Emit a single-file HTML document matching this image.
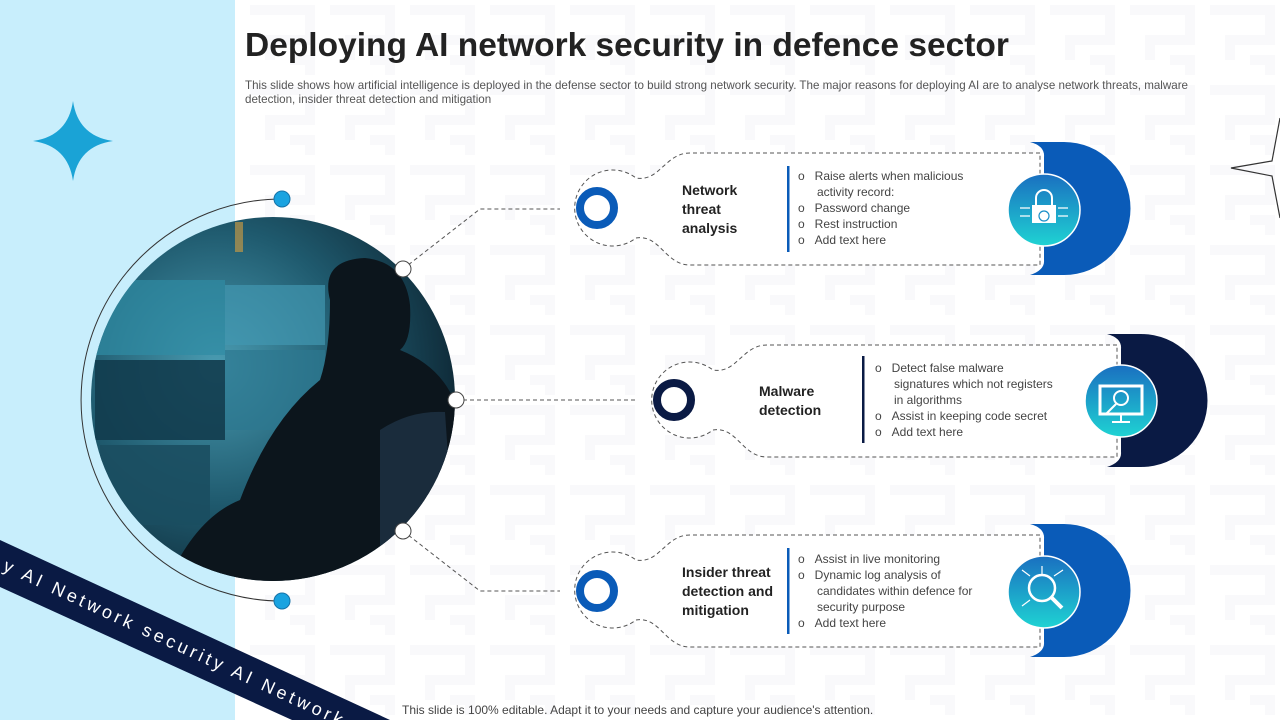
<!DOCTYPE html>
<html><head><meta charset="utf-8"><style>
html,body{margin:0;padding:0;width:1280px;height:720px;overflow:hidden;background:#fff;font-family:"Liberation Sans",sans-serif;position:relative}
</style></head><body>
<svg width="1280" height="720" viewBox="0 0 1280 720" xmlns="http://www.w3.org/2000/svg" style="position:absolute;left:0;top:0;overflow:hidden">
<defs>
<linearGradient id="teal" x1="0" y1="0" x2="0" y2="1"><stop offset="0" stop-color="#1a6fc0"/><stop offset="1" stop-color="#1fd3d3"/></linearGradient>
<radialGradient id="photo" cx="0.35" cy="0.4" r="0.7"><stop offset="0" stop-color="#4a9cb2"/><stop offset="0.5" stop-color="#1f5a6e"/><stop offset="1" stop-color="#0a1c28"/></radialGradient>
<clipPath id="pc"><circle cx="273" cy="399" r="182"/></clipPath>
<clipPath id="bc"><rect x="0" y="0" width="1280" height="720"/></clipPath>
<pattern id="maze" width="80" height="80" patternUnits="userSpaceOnUse"><path d="M10 10 H70 V40 H30 V60 M50 60 H70 V75" fill="none" stroke="#f9f9fb" stroke-width="10"/></pattern>
</defs>
<rect x="235" y="0" width="1045" height="720" fill="url(#maze)"/>
<rect x="0" y="0" width="235" height="720" fill="#c8eefc"/>
<path d="M73 101 Q78 136 113 141 Q78 146 73 181 Q68 146 33 141 Q68 136 73 101Z" fill="#1aa3d6"/>
<path d="M1280 118 L1272 161 L1231 168 L1272 176 L1280 218" fill="none" stroke="#333" stroke-width="1.2"/>
<path d="M282 199 A201 201 0 0 0 282 601" fill="none" stroke="#333" stroke-width="1"/>
<circle cx="282" cy="199" r="8" fill="#1aa3e0" stroke="#1673a8"/>
<circle cx="282" cy="601" r="8" fill="#1aa3e0" stroke="#1673a8"/>
<g clip-path="url(#pc)">
<rect x="80" y="210" width="390" height="390" fill="url(#photo)"/>
<rect x="95" y="280" width="130" height="75" fill="#2f8ba4" opacity="0.7"/>
<rect x="95" y="360" width="130" height="80" fill="#123c4e" opacity="0.9"/>
<rect x="225" y="285" width="100" height="60" fill="#4197b0" opacity="0.7"/>
<rect x="225" y="350" width="100" height="80" fill="#2c7790" opacity="0.7"/>
<rect x="100" y="445" width="110" height="80" fill="#1b4e60" opacity="0.9"/>
<rect x="235" y="222" width="8" height="30" fill="#d9a040" opacity="0.6"/>
<path d="M330 300 Q320 260 365 258 Q405 262 410 305 Q412 340 400 350 Q450 370 460 420 L460 600 L160 600 Q190 520 240 500 Q270 420 320 380 Q330 350 330 300Z" fill="#0c151c"/>
<path d="M380 430 Q410 410 445 412 L455 560 L380 560Z" fill="#1a2c3c"/>
</g>
<g fill="none" stroke="#555" stroke-width="1" stroke-dasharray="4 3">
<path d="M403 269 L480 209 H560"/>
<path d="M456 400 H637"/>
<path d="M403 531 L480 591 H560"/>
</g>
<circle cx="403" cy="269" r="8" fill="#fff" stroke="#444"/>
<circle cx="456" cy="400" r="8" fill="#fff" stroke="#444"/>
<circle cx="403" cy="531" r="8" fill="#fff" stroke="#444"/>
<g>
<path d="M1040 153 H690 C665 153 660 182 636 178 A38 38 0 1 0 636 238 C660 234 665 265 690 265 H1040 Z" fill="#fff" stroke="#555" stroke-dasharray="4 3"/>
<circle cx="597" cy="208" r="17" fill="none" stroke="#0a5bb8" stroke-width="8"/>
<path d="M1030 142 H1064 A66.5 66.5 0 0 1 1064 275 H1030 Q1045 270 1044 260 V157 Q1045 146 1030 142Z" fill="#0a5bb8"/>
<circle cx="1044" cy="210" r="36" fill="url(#teal)" stroke="#fff" stroke-width="1.5"/>
<rect x="787" y="166" width="2.5" height="86" fill="#0a5bb8"/>
</g>
<g>
<path d="M1117 345 H767 C742 345 737 374 713 370 A38 38 0 1 0 713 430 C737 426 742 457 767 457 H1117 Z" fill="#fff" stroke="#555" stroke-dasharray="4 3"/>
<circle cx="674" cy="400" r="17" fill="none" stroke="#0a1a44" stroke-width="8"/>
<path d="M1107 334 H1141 A66.5 66.5 0 0 1 1141 467 H1107 Q1122 462 1121 452 V349 Q1122 338 1107 334Z" fill="#0a1a44"/>
<circle cx="1121" cy="401" r="36" fill="url(#teal)" stroke="#fff" stroke-width="1.5"/>
<rect x="862" y="356" width="2.5" height="87" fill="#0a1a44"/>
</g>
<g>
<path d="M1040 535 H690 C665 535 660 564 636 560 A38 38 0 1 0 636 620 C660 616 665 647 690 647 H1040 Z" fill="#fff" stroke="#555" stroke-dasharray="4 3"/>
<circle cx="597" cy="591" r="17" fill="none" stroke="#0a5bb8" stroke-width="8"/>
<path d="M1030 524 H1064 A66.5 66.5 0 0 1 1064 657 H1030 Q1045 652 1044 642 V539 Q1045 528 1030 524Z" fill="#0a5bb8"/>
<circle cx="1044" cy="592" r="36" fill="url(#teal)" stroke="#fff" stroke-width="1.5"/>
<rect x="787" y="548" width="2.5" height="86" fill="#0a5bb8"/>
</g>
<g fill="none" stroke="#fff" stroke-width="2">
<path d="M1036 205 V198 A8 8 0 0 1 1052 198 V205"/><rect x="1032" y="205" width="24" height="18" fill="#fff" stroke="none"/>
<path d="M1020 208 H1030 M1020 216 H1030 M1058 208 H1068 M1058 216 H1068" stroke-width="1.2"/>
<rect x="1100" y="386" width="42" height="28" stroke-width="3"/><path d="M1121 414 V421 M1112 422 H1130"/>
<circle cx="1121" cy="398" r="7"/><path d="M1116 404 L1106 414"/>
<circle cx="1042" cy="588" r="13" stroke-width="2.5"/><path d="M1051 597 L1062 608" stroke-width="4"/>
<path d="M1030 576 L1022 570 M1054 576 L1063 570 M1030 600 L1022 606 M1042 575 V566" stroke-width="1.2"/>
</g>
<circle cx="1044" cy="216" r="5" fill="none" stroke="#1a8fc8" stroke-width="1.2"/>
<g clip-path="url(#bc)">
<path d="M0 540 L390 720 L292 720 L0 587Z" fill="#0a1a44"/>
<text transform="translate(2,570) rotate(24.8)" font-size="18" fill="#fff" letter-spacing="3.6">y AI Network security AI Network</text>
</g>
</svg>
<div style="position:absolute;left:245px;top:27px;font-size:33.5px;font-weight:bold;color:#222;white-space:nowrap">Deploying AI network security in defence sector</div>
<div style="position:absolute;left:245px;top:79px;width:990px;font-size:11.6px;line-height:14px;color:#555">This slide shows how artificial intelligence is deployed in the defense sector to build strong network security. The major reasons for deploying AI are to analyse network threats, malware detection, insider threat detection and mitigation</div>
<div style="position:absolute;left:682px;top:181px;font-size:14px;line-height:19px;font-weight:bold;color:#222">Network<br>threat<br>analysis</div>
<div style="position:absolute;left:759px;top:382px;font-size:14px;line-height:19px;font-weight:bold;color:#222">Malware<br>detection</div>
<div style="position:absolute;left:682px;top:563px;font-size:14px;line-height:19px;font-weight:bold;color:#222">Insider threat<br>detection and<br>mitigation</div>
<div style="position:absolute;left:798px;top:168px;font-size:12px;line-height:16px;color:#444">
<div>o&nbsp;&nbsp;&nbsp;Raise alerts when malicious</div><div style="padding-left:19px">activity record:</div><div>o&nbsp;&nbsp;&nbsp;Password change</div><div>o&nbsp;&nbsp;&nbsp;Rest instruction</div><div>o&nbsp;&nbsp;&nbsp;Add text here</div></div>
<div style="position:absolute;left:875px;top:360px;font-size:12px;line-height:16px;color:#444">
<div>o&nbsp;&nbsp;&nbsp;Detect false malware</div><div style="padding-left:19px">signatures which not registers</div><div style="padding-left:19px">in algorithms</div><div>o&nbsp;&nbsp;&nbsp;Assist in keeping code secret</div><div>o&nbsp;&nbsp;&nbsp;Add text here</div></div>
<div style="position:absolute;left:798px;top:551px;font-size:12px;line-height:16px;color:#444">
<div>o&nbsp;&nbsp;&nbsp;Assist in live monitoring</div><div>o&nbsp;&nbsp;&nbsp;Dynamic log analysis of</div><div style="padding-left:19px">candidates within defence for</div><div style="padding-left:19px">security purpose</div><div>o&nbsp;&nbsp;&nbsp;Add text here</div></div>
<div style="position:absolute;left:402px;top:703px;font-size:12px;line-height:15px;color:#444;white-space:nowrap">This slide is 100% editable. Adapt it to your needs and capture your audience's attention.</div>
</body></html>
